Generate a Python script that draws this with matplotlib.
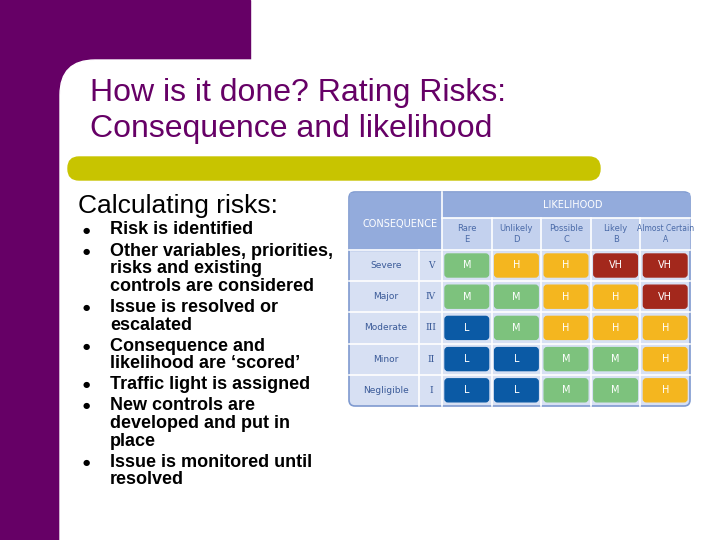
import matplotlib
matplotlib.use("Agg")
import matplotlib.pyplot as plt
from matplotlib.patches import Rectangle, FancyBboxPatch

title_lines = ["How is it done? Rating Risks:", "Consequence and likelihood"]
subtitle = "Calculating risks:"
bullets = [
    ["Risk is identified"],
    ["Other variables, priorities,", "risks and existing", "controls are considered"],
    ["Issue is resolved or", "escalated"],
    ["Consequence and", "likelihood are \u2018scored\u2019"],
    ["Traffic light is assigned"],
    ["New controls are", "developed and put in", "place"],
    ["Issue is monitored until", "resolved"],
]
likelihood = [("Rare", "E"), ("Unlikely", "D"), ("Possible", "C"), ("Likely", "B"), ("Almost Certain", "A")]
consequence = [("Severe", "V"), ("Major", "IV"), ("Moderate", "III"), ("Minor", "II"), ("Negligible", "I")]
ratings = [
    ["M", "H", "H", "VH", "VH"],
    ["M", "M", "H", "H", "VH"],
    ["L", "M", "H", "H", "H"],
    ["L", "L", "M", "M", "H"],
    ["L", "L", "M", "M", "H"],
]
colors = {"L": "#0b5aa5", "M": "#7dc27d", "H": "#f4b61f", "VH": "#a3281c"}
purple = "#660066"

fig = plt.figure(figsize=(7.2, 5.4), dpi=100)
ax = fig.add_axes([0, 0, 1, 1])
ax.set_xlim(0, 720)
ax.set_ylim(540, 0)
ax.axis("off")

# slide background
ax.add_patch(Rectangle((0, 0), 60, 540, color=purple))
ax.add_patch(Rectangle((0, 0), 250, 100, color=purple))
ax.add_patch(FancyBboxPatch((60, 60), 700, 520, boxstyle="round,pad=0,rounding_size=35",
                            color="white"))
ax.add_patch(FancyBboxPatch((68, 157), 532, 23, boxstyle="round,pad=0,rounding_size=11",
                            color="#c8c400"))

for i, t in enumerate(title_lines):
    ax.text(90, 93 + 36 * i, t, fontsize=23, color=purple, va="center", family="Liberation Sans")
ax.text(78, 206, subtitle, fontsize=19, color="black", va="center", family="Liberation Sans")

y = 230
for b in bullets:
    ax.text(83, y, "\u25cf", fontsize=6, va="center", family="DejaVu Sans")
    for line in b:
        ax.text(110, y, line, fontsize=13, fontweight="bold", va="center", family="Liberation Sans")
        y += 17.6
    y += 3.5

# risk matrix
x0, x1, y0, y1 = 349, 690, 192, 406
ax.add_patch(FancyBboxPatch((x0, y0), x1 - x0, y1 - y0, boxstyle="round,pad=0,rounding_size=6",
                            facecolor="#d7e0f3", edgecolor="#7f9ad0", lw=1.2))
col_x = [442 + 49.6 * i for i in range(6)]
row_y = [250 + 31.2 * i for i in range(6)]
hdr = "#93abdc"
ax.add_patch(Rectangle((x0 + 1, y0 + 1), 442 - x0 - 1, 250 - y0 - 1, color=hdr))
ax.add_patch(Rectangle((442, y0 + 1), x1 - 443, 218 - y0 - 1, color=hdr))
ax.add_patch(Rectangle((442, 218), x1 - 443, 32, color="#c3d1ee"))
ax.text(400, 224, "CONSEQUENCE", fontsize=7, color="white", ha="center", va="center")
ax.text(573, 205, "LIKELIHOOD", fontsize=7, color="white", ha="center", va="center")
for j, (name, code) in enumerate(likelihood):
    cx = (col_x[j] + col_x[j + 1]) / 2
    ax.text(cx, 234, name + "\n" + code, fontsize=5.5 if len(name) > 10 else 6,
            color="#4a6aa8", ha="center", va="center", linespacing=1.3)
for i, (name, code) in enumerate(consequence):
    cy = (row_y[i] + row_y[i + 1]) / 2
    ax.text(386, cy, name, fontsize=6.5, color="#3a5a98", ha="center", va="center")
    ax.text(431, cy, code, fontsize=6.5, color="#3a5a98", ha="center", va="center", family="serif")
    for j, r in enumerate(ratings[i]):
        ax.add_patch(FancyBboxPatch((col_x[j] + 3, row_y[i] + 4), col_x[j + 1] - col_x[j] - 6, 23,
                                    boxstyle="round,pad=0,rounding_size=3", color=colors[r]))
        ax.text((col_x[j] + col_x[j + 1]) / 2, row_y[i] + 15.5, r, fontsize=7,
                color="white", ha="center", va="center")
# grid lines
for xx in col_x[:-1]:
    ax.plot([xx, xx], [218 if xx > 442 else y0, y1], color="white", lw=1.2)
ax.plot([419, 419], [250, y1], color="white", lw=1.2)
for yy in row_y[:-1]:
    ax.plot([x0, x1], [yy, yy], color="white", lw=1.2)
ax.plot([442, x1], [218, 218], color="white", lw=1.2)

fig.savefig("out.png", dpi=100)
